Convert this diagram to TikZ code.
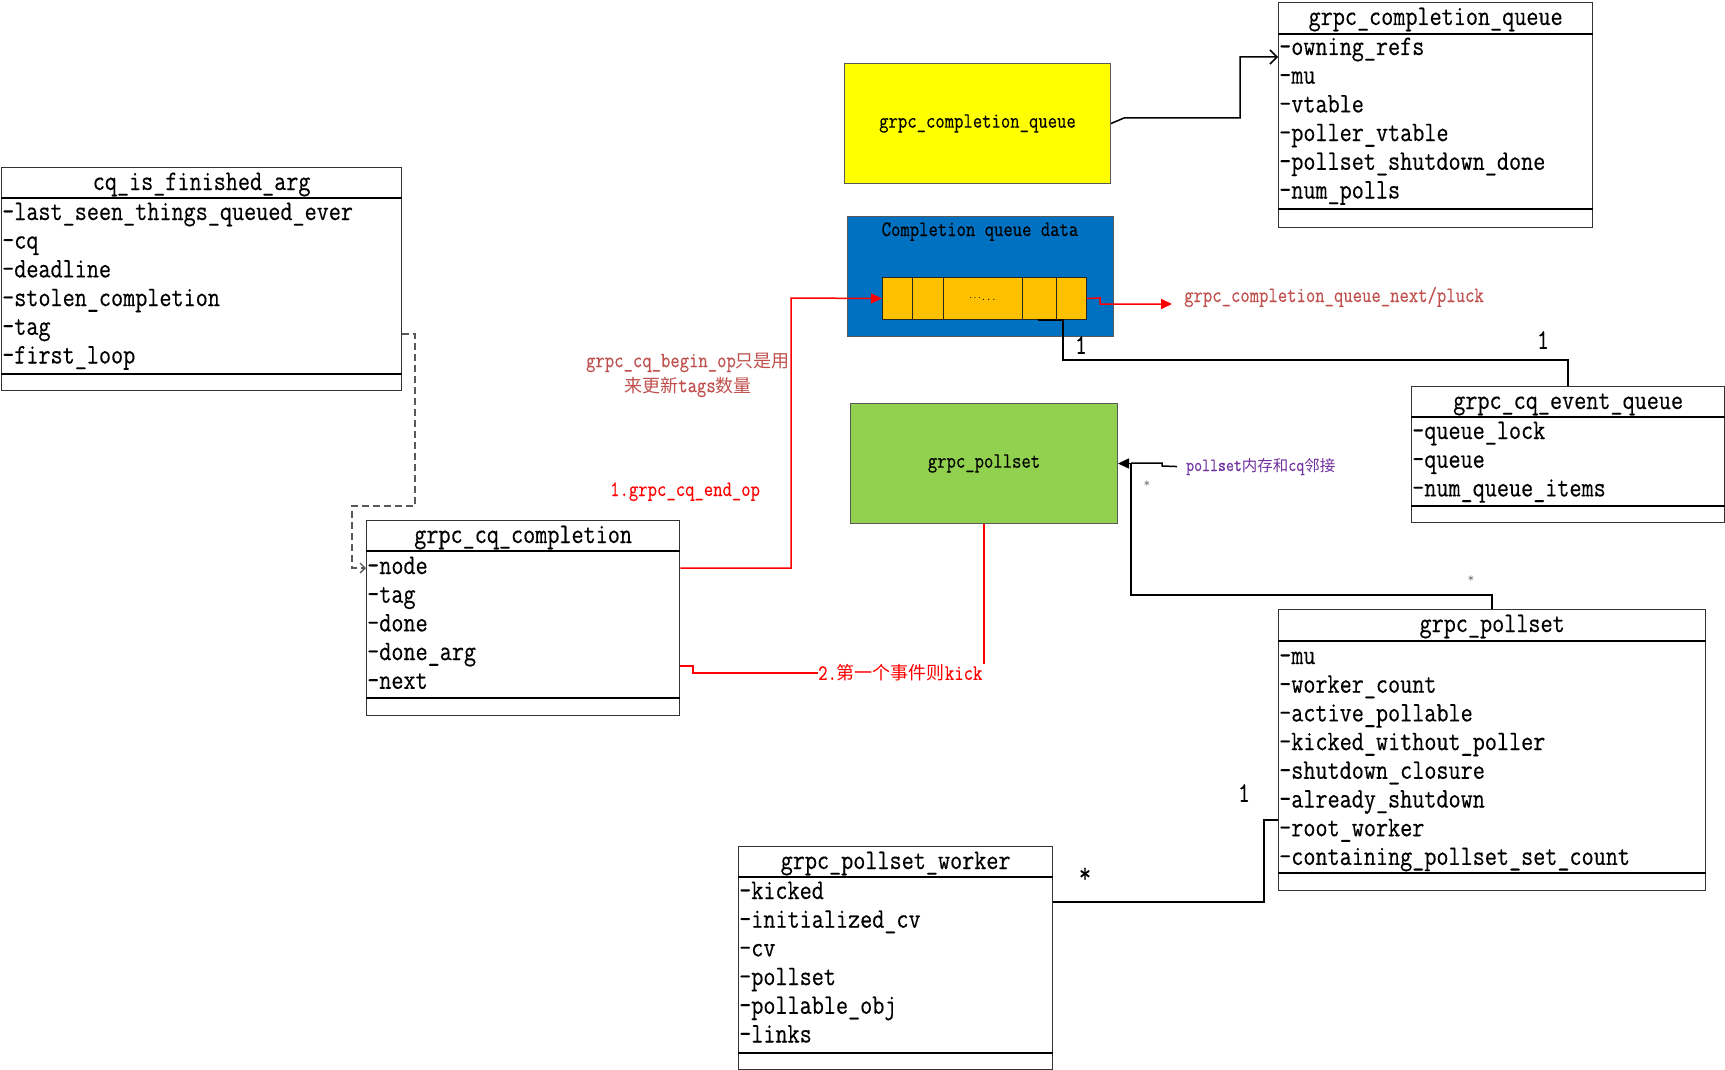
\documentclass[tikz,border=0pt]{standalone}
\usepackage{fontspec}
\newfontfamily\cjk{Noto Sans CJK SC}
\newfontfamily\smono{Latin Modern Mono}[FakeStretch=0.83,FakeBold=0.35]
\usetikzlibrary{arrows.meta}
\definecolor{cyel}{HTML}{FFFF00}
\definecolor{cblue}{HTML}{0070C0}
\definecolor{cgreen}{HTML}{92D050}
\definecolor{corange}{HTML}{FFC000}
\definecolor{cmuted}{HTML}{C0504D}
\definecolor{cpurple}{HTML}{7030A0}
\definecolor{cred}{HTML}{FF0000}
\newcommand\attrfont{\smono\fontsize{28.3}{32}\selectfont}
\newcommand\midfont{\smono\fontsize{21.9}{24}\selectfont}
\newcommand\notefont{\smono\fontsize{18.6}{22}\selectfont}
\newcommand\cjkfont{\cjk\fontsize{18}{21}\selectfont}
\newcommand\zh[1]{{\cjkfont #1}}
\newcommand\zhs[1]{{\cjk\fontsize{15.5}{18}\selectfont #1}}
\tikzset{
  classbox/.style={draw=black!80, line width=1.3pt, inner sep=0pt, anchor=north west},
  sepline/.style={draw=black, line width=1.3pt},
  ctitle/.style={font=\attrfont, inner sep=0pt, anchor=base},
  attr/.style={font=\attrfont, inner sep=0pt, anchor=base west},
  fillbox/.style={draw=black!65, line width=1pt, inner sep=0pt, anchor=north west, font=\midfont},
  cellbox/.style={draw=black!85, line width=1pt, fill=corange, inner sep=0pt, anchor=north west, minimum height=42pt},
  blk/.style={draw=black, line width=1.5pt},
  redline/.style={draw=cred, line width=1.5pt},
  lbl/.style={inner sep=0pt, anchor=base west, font=\midfont},
  mult/.style={inner sep=0pt, font=\attrfont},
  tinystar/.style={inner sep=0pt, text=black!55, font=\ttfamily\fontsize{13}{14}\selectfont},
}
\newcommand\umlclass[8]{%
  \node[classbox, minimum width=#4pt, minimum height=#5pt] (#1) at (#2,#3) {};
  \draw[sepline] ([yshift=-#6pt]#1.north west) -- ([yshift=-#6pt]#1.north east);
  \draw[sepline] ([yshift=-#7pt]#1.north west) -- ([yshift=-#7pt]#1.north east);
  \node[ctitle] (#1-t) at ([yshift=-23pt]#1.north) {#8};
}
\newcommand\attrs[4]{%
  \foreach \t [count=\i] in {#4} {\node[attr] (#1-\i) at (#2+1, {#3+28.7*(\i-1)}) {-\t};}
}
\begin{document}
\begin{tikzpicture}[x=1pt,y=-1pt]
\useasboundingbox (0,0) rectangle (1725,1070);

% ---------- classes ----------
\umlclass{cqfin}{1}{167}{400}{223}{31}{207}{cq\_is\_finished\_arg}
\attrs{cqfin}{1}{220}{last\_seen\_things\_queued\_ever, cq, deadline, stolen\_completion, tag, first\_loop}

\umlclass{cqclass}{1278}{2}{314}{225}{32}{207}{grpc\_completion\_queue}
\attrs{cqclass}{1278}{55}{owning\_refs, mu, vtable, poller\_vtable, pollset\_shutdown\_done, num\_polls}

\umlclass{evq}{1411}{386}{313}{136}{31}{120}{grpc\_cq\_event\_queue}
\attrs{evq}{1411}{439}{queue\_lock, queue, num\_queue\_items}

\umlclass{cqc}{366}{520}{313}{195}{31}{178}{grpc\_cq\_completion}
\attrs{cqc}{366}{574}{node, tag, done, done\_arg, next}

\umlclass{pollsetc}{1278}{609}{427}{281}{32}{264}{grpc\_pollset}
\attrs{pollsetc}{1278}{664}{mu, worker\_count, active\_pollable, kicked\_without\_poller, shutdown\_closure, already\_shutdown, root\_worker, containing\_pollset\_set\_count}

\umlclass{worker}{738}{846}{314}{223}{31}{207}{grpc\_pollset\_worker}
\attrs{worker}{738}{899}{kicked, initialized\_cv, cv, pollset, pollable\_obj, links}

% ---------- coloured boxes ----------
\node[fillbox, fill=cyel, minimum width=266pt, minimum height=120pt] (yellow) at (844,63) {grpc\_completion\_queue};
\node[fillbox, fill=cblue, minimum width=266pt, minimum height=120pt] (blue) at (847,216) {};
\node[lbl, anchor=base] (bluetxt) at (980,236) {Completion queue data};
\node[cellbox, minimum width=30pt] (cell1) at (882,277) {};
\node[cellbox, minimum width=31pt] (cell2) at (912,277) {};
\node[cellbox, minimum width=79pt, font=\ttfamily\fontsize{10}{12}\selectfont] (cell3) at (943,277) {$\cdots$...};
\node[cellbox, minimum width=34pt] (cell4) at (1022,277) {};
\node[cellbox, minimum width=30pt] (cell5) at (1056,277) {};
\node[fillbox, fill=cgreen, minimum width=267pt, minimum height=120pt] (green) at (850,403) {grpc\_pollset};

% ---------- labels ----------
\node[lbl, text=cred] (endop) at (610,496) {1.grpc\_cq\_end\_op};
\node[inner sep=0pt, text=cmuted, align=center, font=\midfont] (beginop) at (688,375)
  {grpc\_cq\_begin\_op\zh{只是用}\\[1pt] \zh{来更新}tags\zh{数量}};
\node[lbl, text=cred, anchor=west] (kick) at (818,673) {2.\zh{第一个事件则}kick};
\node[lbl, text=cmuted] (nextlbl) at (1184,302) {grpc\_completion\_queue\_next/pluck};
\node[lbl, text=cpurple, font=\notefont] (pnote) at (1186,471) {pollset\zhs{内存和}cq\zhs{邻接}};

% multiplicities
\node[mult] (m1a) at (1081,345) {1};
\node[mult] (m1b) at (1543,340) {1};
\node[mult] (mstar1) at (1085,875) {*};
\node[mult] (m1c) at (1244,793) {1};
\node[tinystar] (mstar2) at (1147,484) {*};
\node[tinystar] (mstar3) at (1471,579) {*};

% ---------- connectors ----------
% yellow box -> grpc_completion_queue class
\draw[blk, -{Straight Barb[length=7pt,width=14pt]}] (yellow.east) -- (1124,118) -- (1240,118) -- (1240,57) -- ([yshift=-55pt]cqclass.north west);

% cq_completion.node -> queue cells
\draw[redline, -{Triangle[length=11pt,width=10pt]}] ([yshift=-48pt]cqc.north east) -- (791,568) -- (791,298) -- (cell1.west);

% cells -> next/pluck
\coordinate (nexttip) at (1172,304);
\draw[redline, -{Triangle[length=11pt,width=10pt]}] (cell5.east) -- (1100,298) -- (1100,304) -- (nexttip);

% cells -> event queue
\draw[blk] ([xshift=-2pt]cell4.south) -| (1063,360) -| (evq.north);

% pollset class -> green box
\draw[blk, -{Triangle[length=11pt,width=10pt]}] (pollsetc.north) |- (1131,595) |- (green.east);
\draw[blk] ([xshift=-9pt]pnote.west) -- (1162,466) -- (1162,463) -- (1131,463);

% worker -> pollset root_worker
\draw[blk] ([yshift=-56pt]worker.north east) -- (1264,902) -- (1264,820) -- ([yshift=-211pt]pollsetc.north west);

% dashed cq_is_finished_arg -> cq_completion.node
\draw[draw=black!65, line width=1.3pt, dash pattern=on 7pt off 4pt, -{Straight Barb[length=5pt,width=10pt]}]
  ([yshift=-167pt]cqfin.north east) -- (415,334) -- (415,506) -- (352,506) -- (352,568) -- ([yshift=-48pt]cqc.north west);

% 2. kick
\draw[redline] ([yshift=-146pt]cqc.north east) -- (693,666) -- (693,673) -- (kick.west);
\draw[redline] (green.south) -- (green.south |- kick.north);
\end{tikzpicture}
\end{document}
